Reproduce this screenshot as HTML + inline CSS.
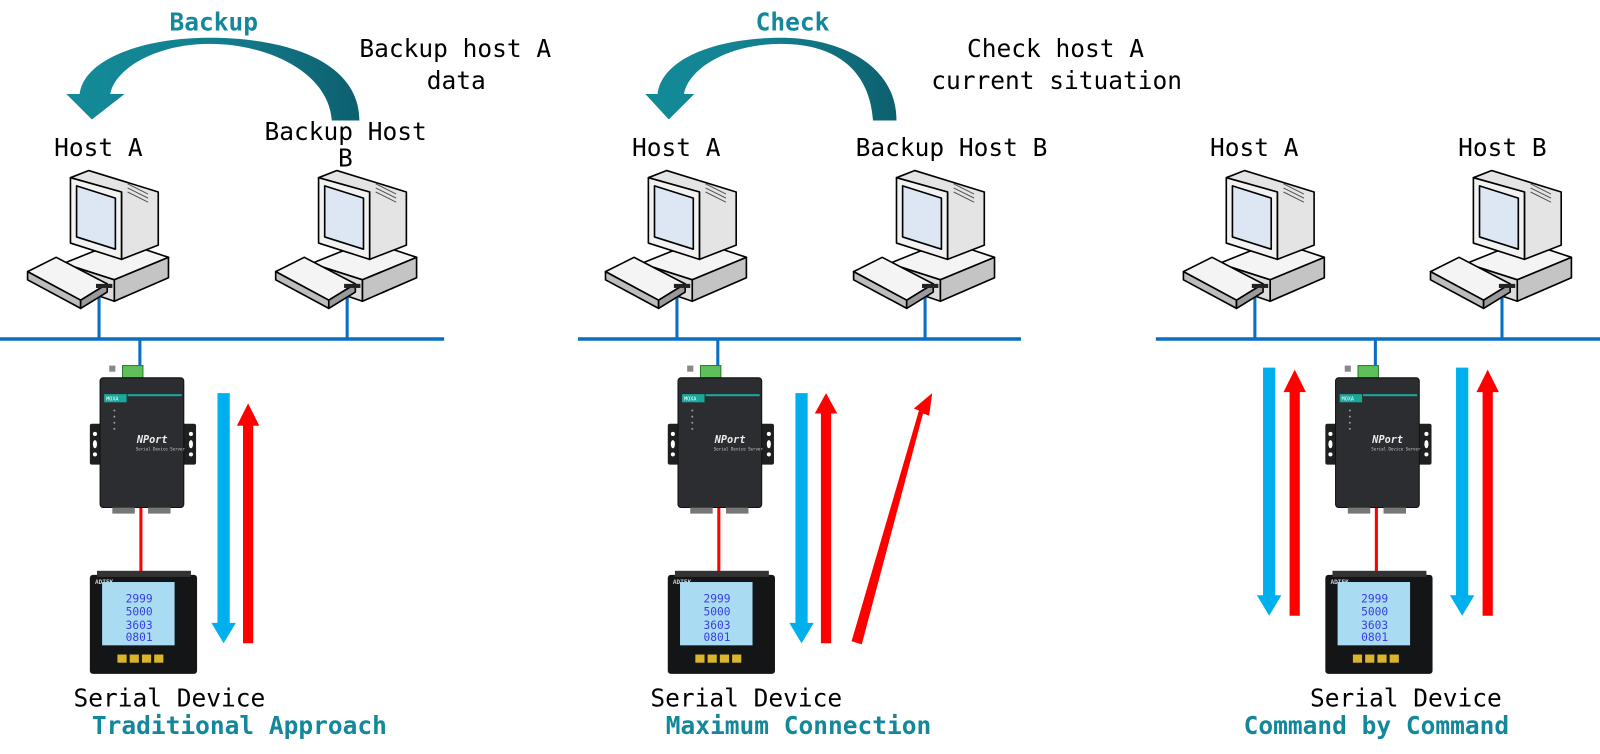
<!DOCTYPE html>
<html><head><meta charset="utf-8"><style>
html,body{margin:0;padding:0;background:#fff;}
svg{display:block}
text{font-family:"DejaVu Sans Mono","Liberation Mono",monospace;font-size:24px;fill:#000}
.t{fill:#13889a;font-weight:bold}
.d{font-size:11px;fill:#3a3ee0}
</style></head><body>
<svg width="1600" height="754" viewBox="0 0 1567 738.4" xmlns="http://www.w3.org/2000/svg">
<defs>
<linearGradient id="cg" x1="0" x2="1" y1="0" y2="0">
<stop offset="0" stop-color="#138b98"/><stop offset="0.5" stop-color="#137f8f"/><stop offset="1" stop-color="#0d5f6e"/>
</linearGradient>
<g id="pc" stroke="#000" stroke-width="1.6" stroke-linejoin="round">
<polygon points="-35,88 20,66 68,82 15,104" fill="#f4f4f4"/>
<polygon points="-35,88 15,104 15,125 -35,108" fill="#dcdcdc"/>
<polygon points="15,104 68,82 68,102 15,125" fill="#c4c4c4"/>
<polygon points="-28,4 -10,-3 58,18 58,70 22,84 22,18" fill="#e4e4e4"/>
<polygon points="-28,4 22,18 22,84 -28,68" fill="#f2f2f2"/>
<polygon points="-22,12 16,24 16,74 -22,62" fill="#dde7f4"/>
<g stroke="#555" stroke-width="1"><line x1="28" y1="10" x2="48" y2="20"/><line x1="28" y1="14" x2="48" y2="24"/><line x1="28" y1="18" x2="48" y2="28"/></g>
<polygon points="-70,96 -42,82 8,108 -18,124" fill="#f4f4f4"/>
<polygon points="-70,96 -18,124 -18,132 -70,104" fill="#bdbdbd"/>
<polygon points="-18,124 8,108 8,116 -18,132" fill="#9a9a9a"/>
<rect x="-3" y="108" width="16" height="4" fill="#222" stroke="none"/>
</g>
<g id="np">
<rect x="-30" y="-12" width="6" height="6" fill="#888"/>
<rect x="-17" y="-12" width="20" height="12" fill="#5fbf5a" stroke="#2a7a2a" stroke-width="1"/>
<rect x="-49" y="45" width="104" height="40" rx="2" fill="#1e1f21"/>
<circle cx="-44" cy="55" r="2" fill="#fff"/><circle cx="-44" cy="75" r="2" fill="#fff"/><circle cx="50" cy="55" r="2" fill="#fff"/><circle cx="50" cy="75" r="2" fill="#fff"/>
<ellipse cx="-44" cy="65" rx="2" ry="4" fill="#fff"/><ellipse cx="50" cy="65" rx="2" ry="4" fill="#fff"/>
<rect x="-39" y="0" width="82" height="127" rx="3" fill="#2b2d30" stroke="#111" stroke-width="1"/>
<rect x="-35" y="16" width="22" height="8" fill="#19a99b"/>
<text x="-33" y="22" style="font-size:5px;fill:#fff">MOXA</text>
<rect x="-12" y="16" width="53" height="2" fill="#19a99b"/>
<g fill="#999"><circle cx="-25" cy="32" r="1"/><circle cx="-25" cy="38" r="1"/><circle cx="-25" cy="44" r="1"/><circle cx="-25" cy="50" r="1"/></g>
<text x="-3" y="64" style="font-size:10px;font-style:italic;font-weight:bold;fill:#eee">NPort</text>
<text x="-4" y="71" style="font-size:4px;fill:#ccc">Serial Device Server</text>
<rect x="-27" y="127" width="22" height="6" fill="#777"/><rect x="8" y="127" width="22" height="6" fill="#777"/>
</g>
<g id="mt">
<rect x="-49" y="0" width="105" height="97" rx="3" fill="#141516"/>
<rect x="-42" y="-4" width="92" height="6" fill="#333"/>
<text x="-44" y="9" style="font-size:6px;font-weight:bold;fill:#ccc">ADTEK</text>
<rect x="-37" y="7" width="71" height="62" fill="#a9dcf2"/>
<text class="d" x="-14" y="27">2999</text><text class="d" x="-14" y="40">5000</text><text class="d" x="-14" y="53">3603</text><text class="d" x="-14" y="65">0801</text>
<g fill="#d8b52a"><rect x="-22" y="78" width="9" height="8"/><rect x="-10" y="78" width="9" height="8"/><rect x="2" y="78" width="9" height="8"/><rect x="14" y="78" width="9" height="8"/></g>
</g>
</defs>

<g stroke="#0a6ec2" stroke-width="3.5">
<line x1="0" y1="332" x2="435" y2="332"/>
<line x1="566" y1="332" x2="1000" y2="332"/>
<line x1="1132" y1="332" x2="1567" y2="332"/>
</g>
<g stroke="#0a6ec2" stroke-width="3">
<line x1="97" y1="290" x2="97" y2="332"/><line x1="340" y1="290" x2="340" y2="332"/><line x1="137" y1="332" x2="137" y2="362"/>
<line x1="663" y1="290" x2="663" y2="332"/><line x1="906" y1="290" x2="906" y2="332"/><line x1="703" y1="332" x2="703" y2="362"/>
<line x1="1229" y1="290" x2="1229" y2="332"/><line x1="1471" y1="290" x2="1471" y2="332"/><line x1="1347" y1="332" x2="1347" y2="362"/>
</g>
<g stroke="#f00" stroke-width="3">
<line x1="138" y1="495" x2="138" y2="563"/><line x1="704" y1="495" x2="704" y2="563"/><line x1="1348" y1="495" x2="1348" y2="563"/>
</g>

<use href="#pc" transform="translate(97,170)"/><use href="#pc" transform="translate(340,170)"/>
<use href="#pc" transform="translate(663,170)"/><use href="#pc" transform="translate(906,170)"/>
<use href="#pc" transform="translate(1229,170)"/><use href="#pc" transform="translate(1471,170)"/>
<use href="#np" transform="translate(137,370)"/><use href="#np" transform="translate(703,370)"/><use href="#np" transform="translate(1347,370)"/>
<use href="#mt" transform="translate(137,563)"/><use href="#mt" transform="translate(703,563)"/><use href="#mt" transform="translate(1347,563)"/>

<path d="M352,118 C352,62 285,37 205,37 C140,37 82,58 78,92 L65,92 L90,117 L122,92 L108,92 C112,68 152,43 205,43 C265,43 322,72 325,118 Z" fill="url(#cg)"/>
<path d="M878,118 C878,62 820,37 765,37 C700,37 648,58 644,92 L632,92 L655,117 L680,92 L670,92 C674,68 712,43 765,43 C822,43 852,72 855,118 Z" fill="url(#cg)"/>

<g fill="#00b0ee">
<polygon points="213,385 225,385 225,610 231,610 219,630 207,610 213,610"/>
<polygon points="779,385 791,385 791,610 797,610 785,630 773,610 779,610"/>
<polygon points="1237,360 1249,360 1249,583 1255,583 1243,603 1231,583 1237,583"/>
<polygon points="1426,360 1438,360 1438,583 1444,583 1432,603 1420,583 1426,583"/>
</g>
<g fill="#f00">
<polygon points="238,630 248,630 248,417 254,417 243,395 232,417 238,417"/>
<polygon points="804,630 814,630 814,405 820,405 809,385 798,405 804,405"/>
<polygon points="1263,603 1273,603 1273,384 1279,384 1268,362 1257,384 1263,384"/>
<polygon points="1452,603 1462,603 1462,384 1468,384 1457,362 1446,384 1452,384"/>
<polygon points="834,628 844,631 904,405 910,407 913,385 895,400 900,402"/>
</g>

<text class="t" x="166" y="30">Backup</text>
<text x="352" y="56">Backup host A</text>
<text x="418" y="87">data</text>
<text x="53" y="153">Host A</text>
<text x="259" y="137">Backup Host</text>
<text x="331" y="163">B</text>
<text class="t" x="740" y="30">Check</text>
<text x="947" y="56">Check host A</text>
<text x="912" y="87">current situation</text>
<text x="619" y="153">Host A</text>
<text x="838" y="153">Backup Host B</text>
<text x="1185" y="153">Host A</text>
<text x="1428" y="153">Host B</text>
<text x="72" y="692">Serial Device</text>
<text class="t" x="90" y="719">Traditional Approach</text>
<text x="637" y="692">Serial Device</text>
<text class="t" x="652" y="719">Maximum Connection</text>
<text x="1283" y="692">Serial Device</text>
<text class="t" x="1218" y="719">Command by Command</text>
</svg>
</body></html>
